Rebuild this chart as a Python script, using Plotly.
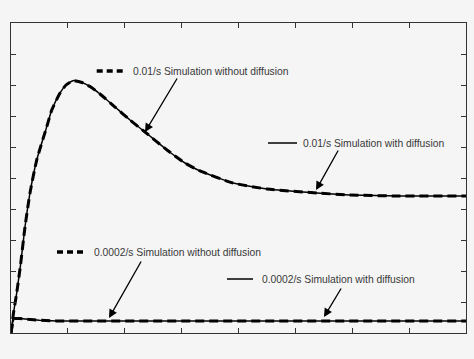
import plotly.graph_objects as go

# ---- data (time in tick units, response in tick units) ----
t_fast = [0, 0.044, 0.10, 0.167, 0.246, 0.334, 0.452, 0.628, 0.716, 0.862, 0.967, 1.090,
          1.248, 1.389, 1.565, 1.829, 2.092, 2.356, 2.743, 3.059, 3.323, 3.903, 4.501,
          5.380, 5.960, 6.840, 8.0]
y_fast_with = [0, 0.645, 1.29, 2.19, 3.42, 4.52, 5.58, 6.65, 7.19, 7.74, 8.0, 8.139,
               8.081, 7.952, 7.710, 7.290, 6.871, 6.484, 5.903, 5.484, 5.226, 4.839, 4.645,
               4.516, 4.452, 4.419, 4.419]
y_fast_without = list(y_fast_with)

t_slow = [0, 0.03, 0.06, 0.15, 0.3, 0.5, 0.8, 1.2, 2, 4, 6, 8]
y_slow_with = [0, 0.35, 0.47, 0.47, 0.44, 0.41, 0.39, 0.385, 0.385, 0.385, 0.385, 0.385]
y_slow_without = list(y_slow_with)

labels = ["0.01/s Simulation without diffusion",
          "0.01/s Simulation with diffusion",
          "0.0002/s Simulation without diffusion",
          "0.0002/s Simulation with diffusion"]

BG = "#f5f5f5"
TXT = "#383838"
DASH = "9px,5px"

fig = go.Figure()
fig.add_trace(go.Scatter(x=t_fast, y=y_fast_without, mode="lines", name=labels[0],
                         line=dict(color="black", width=3, dash=DASH, shape="spline", smoothing=0.5)))
fig.add_trace(go.Scatter(x=t_fast, y=y_fast_with, mode="lines", name=labels[1],
                         line=dict(color="black", width=1.5, shape="spline", smoothing=0.5)))
fig.add_trace(go.Scatter(x=t_slow, y=y_slow_without, mode="lines", name=labels[2],
                         line=dict(color="black", width=3, dash=DASH)))
fig.add_trace(go.Scatter(x=t_slow, y=y_slow_with, mode="lines", name=labels[3],
                         line=dict(color="black", width=1.5)))

font = dict(family="Liberation Sans, Arial, sans-serif", size=10.3, color=TXT)

# label positions: (sample x0, sample x1, y, text x, dashed?)
items = [
    (1.507, 1.97, 8.45, 2.105, True, labels[0]),
    (4.519, 5.029, 6.129, 5.099, False, labels[1]),
    (0.809, 1.283, 2.613, 1.424, True, labels[2]),
    (3.798, 4.255, 1.742, 4.378, False, labels[3]),
]
shapes = []
annotations = []
for x0, x1, yy, xt, dashed, lab in items:
    shapes.append(dict(type="line", xref="x", yref="y", x0=x0, x1=x1, y0=yy, y1=yy,
                       line=dict(color="black", width=3.5 if dashed else 1.5,
                                 dash="6px,4px" if dashed else "solid")))
    annotations.append(dict(x=xt, y=yy, xref="x", yref="y", text=lab, showarrow=False,
                            xanchor="left", yanchor="middle", font=font))

arrows = [
    ((2.936, 8.258), (2.356, 6.484)),
    ((5.767, 5.935), (5.363, 4.613)),
    ((2.303, 2.355), (1.723, 0.484)),
    ((5.820, 1.484), (5.503, 0.516)),
]
for (tx, ty), (hx, hy) in arrows:
    annotations.append(dict(x=hx, y=hy, ax=tx, ay=ty, xref="x", yref="y", axref="x", ayref="y",
                            text="", showarrow=True, arrowhead=2, arrowsize=1.3,
                            arrowwidth=1.3, arrowcolor="black"))

axis_common = dict(showgrid=False, zeroline=False, showticklabels=False, ticks="inside",
                   ticklen=5, tickwidth=1, tickcolor="#333333", showline=True,
                   linecolor="#333333", linewidth=1, mirror="ticks")

fig.update_layout(
    width=474, height=359,
    margin=dict(l=11, r=8, t=23, b=26),
    paper_bgcolor=BG, plot_bgcolor=BG,
    showlegend=False,
    shapes=shapes, annotations=annotations,
    xaxis=dict(range=[0, 8], dtick=1, **axis_common),
    yaxis=dict(range=[0, 10], dtick=1, **axis_common),
)

fig.write_html("out.html", config={"displayModeBar": False},
               post_script="document.body.style.margin='0';document.body.style.background='%s';" % BG)
